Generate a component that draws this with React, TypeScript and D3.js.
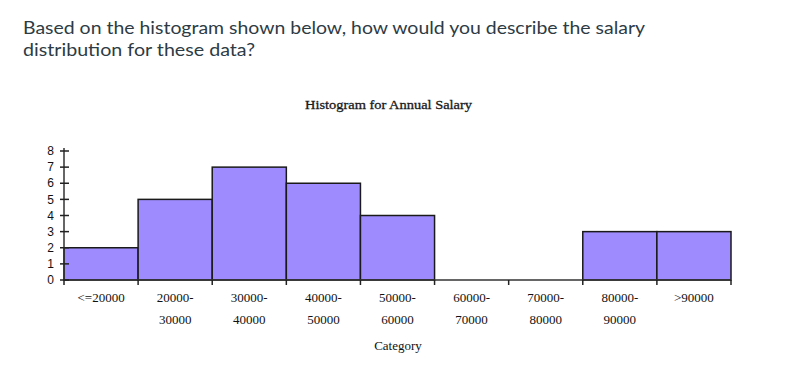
import React, { useEffect, useRef } from 'react';
import * as d3 from 'd3';

const question = [
    'Based on the histogram shown below, how would you describe the salary',
    'distribution for these data?',
];
const chartTitle = 'Histogram for Annual Salary';
const axisTitle = 'Category';
const categories = ['<=20000', '20000-30000', '30000-40000', '40000-50000', '50000-60000', '60000-70000', '70000-80000', '80000-90000', '>90000'];
const labelTop = ['<=20000', '20000-', '30000-', '40000-', '50000-', '60000-', '70000-', '80000-', '>90000'];
const labelBottom = ['', '30000', '40000', '50000', '60000', '70000', '80000', '90000', ''];
const counts = [2, 5, 7, 6, 4, 0, 0, 3, 3];
const yTicks = [0, 1, 2, 3, 4, 5, 6, 7, 8];

export default function App() {
    const ref = useRef<SVGSVGElement>(null);

    useEffect(() => {
        const width = 799;
        const height = 371;
        const left = 64;
        const right = 731;
        const bottom = 280;
        const top = 151;

        const svg = d3.select(ref.current);
        svg.selectAll('*').remove();
        svg.append('rect').attr('width', width).attr('height', height).attr('fill', '#fff');

        // question text above the chart
        const qLengths = [622, 232];
        svg.append('g')
            .selectAll('text')
            .data(question)
            .enter()
            .append('text')
            .attr('x', 23)
            .attr('y', (d, i) => 34 + i * 22)
            .attr('font-family', 'Lato')
            .attr('font-size', 18)
            .attr('fill', '#2d3b45')
            .attr('textLength', (d, i) => qLengths[i])
            .attr('lengthAdjust', 'spacingAndGlyphs')
            .text((d) => d);

        const xScale = d3.scaleBand().domain(categories).range([left, right]).padding(0);
        const yScale = d3.scaleLinear().domain([0, 8]).range([bottom, top]);

        svg.append('text')
            .attr('x', 305)
            .attr('y', 109)
            .attr('font-family', 'Liberation Serif')
            .attr('font-size', 12.5)
            .attr('fill', '#1a1a1a')
            .attr('stroke', '#1a1a1a')
            .attr('stroke-width', 0.3)
            .attr('textLength', 167)
            .attr('lengthAdjust', 'spacingAndGlyphs')
            .text(chartTitle);

        // bars
        const bars = svg.append('g');
        counts.forEach((c, i) => {
            if (c <= 0) return;
            bars.append('rect')
                .attr('x', xScale(categories[i]) as number)
                .attr('y', yScale(c))
                .attr('width', xScale.bandwidth())
                .attr('height', yScale(0) - yScale(c))
                .attr('fill', '#9e8cfe')
                .attr('stroke', '#1a1a1a')
                .attr('stroke-width', 1.5);
        });

        // x axis
        const xAxis = svg.append('g').attr('transform', `translate(0, ${bottom})`);
        xAxis.append('line')
            .attr('x1', left)
            .attr('x2', right)
            .attr('stroke', '#333')
            .attr('stroke-width', 1.5);
        const bounds = categories.map((c) => xScale(c) as number).concat([right]);
        xAxis.selectAll('.xtick')
            .data(bounds)
            .enter()
            .append('line')
            .attr('x1', (d) => d)
            .attr('x2', (d) => d)
            .attr('y1', 0)
            .attr('y2', 5)
            .attr('stroke', '#222')
            .attr('stroke-width', 1.5);
        const xl = xAxis.selectAll('.xlabel')
            .data(categories)
            .enter()
            .append('text')
            .attr('text-anchor', 'middle')
            .attr('font-family', 'Liberation Serif')
            .attr('font-size', 13)
            .attr('fill', '#111');
        xl.append('tspan')
            .attr('x', (d) => (xScale(d) as number) + xScale.bandwidth() / 2)
            .attr('y', 22)
            .text((d, i) => labelTop[i]);
        xl.append('tspan')
            .attr('x', (d) => (xScale(d) as number) + xScale.bandwidth() / 2)
            .attr('y', 44)
            .text((d, i) => labelBottom[i]);
        svg.append('text')
            .attr('x', 398)
            .attr('y', 350)
            .attr('text-anchor', 'middle')
            .attr('font-family', 'Liberation Serif')
            .attr('font-size', 13)
            .attr('fill', '#111')
            .text(axisTitle);

        // y axis
        const yAxis = svg.append('g').attr('transform', `translate(${left}, 0)`);
        yAxis.append('line')
            .attr('y1', yScale(8) - 3)
            .attr('y2', bottom)
            .attr('stroke', '#333')
            .attr('stroke-width', 1.5);
        yAxis.selectAll('.ytick')
            .data(yTicks)
            .enter()
            .append('line')
            .attr('x1', -4)
            .attr('x2', 5)
            .attr('y1', (d) => yScale(d))
            .attr('y2', (d) => yScale(d))
            .attr('stroke', '#222')
            .attr('stroke-width', 1.5);
        yAxis.selectAll('.ylabel')
            .data(yTicks)
            .enter()
            .append('text')
            .attr('x', -10)
            .attr('y', (d) => yScale(d))
            .attr('dy', '0.35em')
            .attr('text-anchor', 'end')
            .attr('font-family', 'Liberation Sans')
            .attr('font-size', 12)
            .attr('fill', '#111')
            .text((d) => d);
    }, []);

    return (
        <svg
            ref={ref}
            width={799}
            height={371}
            style={{ position: 'absolute', left: 0, top: 0, display: 'block' }}
        />
    );
}
